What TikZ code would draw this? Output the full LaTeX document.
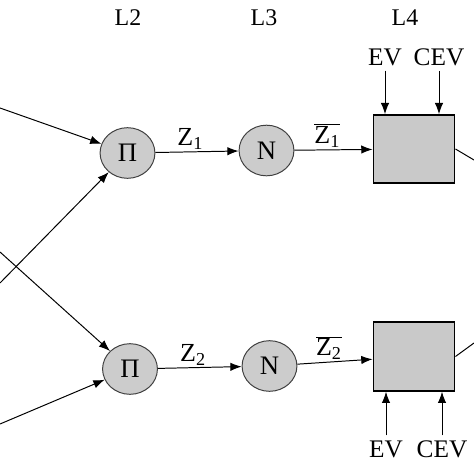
\documentclass[tikz,border=0pt]{standalone}
\usepackage{fontspec}
\setmainfont{Liberation Serif}
\usetikzlibrary{arrows.meta,shapes.geometric}
\begin{document}
\begin{tikzpicture}[x=0.025cm,y=-0.025cm,>={Latex[length=8pt,width=6pt]},line width=0.7pt,
    unit/.style={ellipse,draw=black!75,fill=black!20,minimum width=39pt,minimum height=36pt,inner sep=0pt,font=\fontsize{19}{21}\selectfont},
    block/.style={rectangle,draw,line width=1pt,fill=black!21,minimum width=58pt,minimum height=48.5pt},
    sig/.style={font=\fontsize{18.5}{20}\selectfont,inner sep=1.5pt},
    inp/.style={font=\fontsize{18}{20}\selectfont},
    layer/.style={font=\fontsize{17}{19}\selectfont}]
    \useasboundingbox (0,0) rectangle (474,474);
    \path (128,18) node[layer](l2){L2} (264,18) node[layer](l3){L3} (405,18) node[layer](l4){L4};
    \path (127.5,153) node[unit](p1){Π} (266.5,150.5) node[unit](n1){N} (414,149) node[block](b1){};
    \path (130,369) node[unit](p2){Π} (269.5,366) node[unit](n2){N} (414,356.5) node[block,minimum height=49pt](b2){};
    \path (385,57) node[inp](ev1){EV} (439,57) node[inp](cev1){CEV};
    \path (386,449) node[inp](ev2){EV} (442,449) node[inp](cev2){CEV};
    \coordinate (a1) at (0,108); \coordinate (a2) at (0,283);
    \coordinate (a3) at (0,252); \coordinate (a4) at (0,424);
    \coordinate (o1) at (474,160); \coordinate (o2) at (474,343);
    \draw[->] (a1) -- (p1);
    \draw[->] (a2) -- (p1);
    \draw[->] (a3) -- (p2);
    \draw[->] (a4) -- (p2);
    \draw[->] (p1) -- node[sig,above,pos=0.42]{Z\textsubscript{1}} (n1);
    \draw[->] (p2) -- node[sig,above,pos=0.42]{Z\textsubscript{2}} (n2);
    \draw[->] (n1) -- node[sig,above,pos=0.42]{$\overline{\mbox{Z\textsubscript{1}}}$} (b1);
    \draw[->] (n2) -- node[sig,above,pos=0.42]{$\overline{\mbox{Z\textsubscript{2}}}$} (b2);
    \draw[->] (ev1.south) -- (ev1.south |- b1.north);
    \draw[->] (cev1.south) -- (cev1.south |- b1.north);
    \draw[->] (ev2.north) -- (ev2.north |- b2.south);
    \draw[->] (cev2.north) -- (cev2.north |- b2.south);
    \draw (b1.east) -- (o1);
    \draw (b2.east) -- (o2);
  \end{tikzpicture}
\end{document}
